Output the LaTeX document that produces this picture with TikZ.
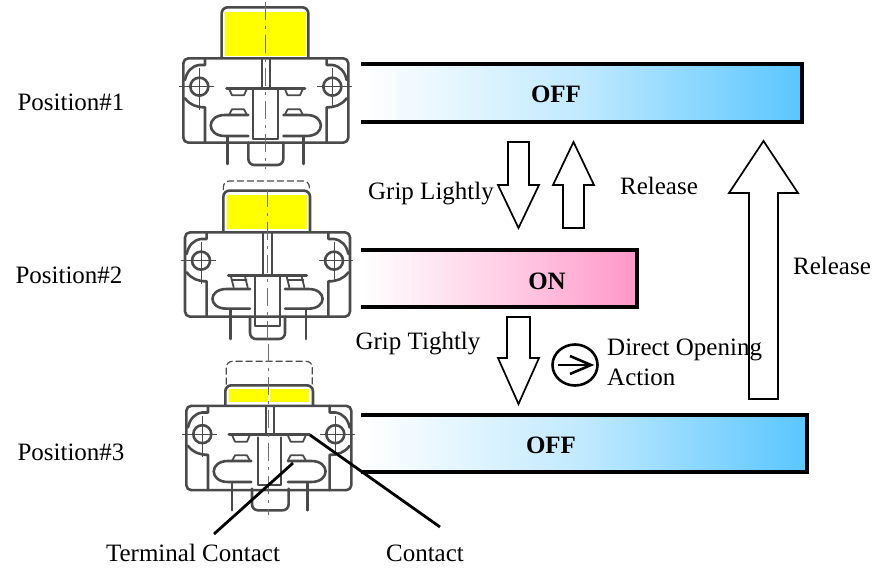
\documentclass[tikz,border=0pt]{standalone}
\usepackage{fontspec}
\usetikzlibrary{shapes.geometric}
\setmainfont{Liberation Serif}
\definecolor{ink}{HTML}{4A4A4A}
\definecolor{sky}{HTML}{5AC6FF}
\definecolor{rose}{HTML}{FF96C8}
\definecolor{btn}{HTML}{FFFF00}
\tikzset{
 lab/.style={inner sep=0pt,font=\fontsize{25}{28}\selectfont},
 blab/.style={inner sep=0pt,font=\fontsize{25}{28}\selectfont\bfseries},
 bar/.style={minimum height=58pt,inner sep=0pt,outer sep=0pt,anchor=north west,shading=axis,shading angle=90,left color=white},
 barline/.style={line width=3.2pt,black},
 blockarrow/.style={draw=black,line width=1.7pt,fill=none,line join=miter},
 leader/.style={line width=2.8pt,black},
 sw/.style={draw=ink,line width=2.6pt,line cap=round,line join=round},
 swin/.style={draw=ink,line width=1.8pt,line cap=round,line join=round},
 swthin/.style={draw=ink,line width=1pt},
 swdash/.style={draw=ink!80,line width=1pt,dash pattern=on 18pt off 6pt on 3pt off 6pt},
 ghost/.style={draw=ink,line width=1.2pt,dash pattern=on 7pt off 3pt},
 swscope/.style={x=0.3333pt,y=-0.3333pt}
}
\newcommand{\swhousing}{%
 \draw[sw,rounded corners=5pt] (40,175) rectangle (535,428);
 \draw[sw] (105,175)--(105,195)--(88,195) .. controls (65,198) and (50,215) .. (45,240);
 \draw[sw] (45,295) .. controls (60,315) and (80,322) .. (105,322)--(105,428);
 \draw[sw] (470,175)--(470,195)--(487,195) .. controls (510,198) and (525,215) .. (530,240);
 \draw[sw] (530,295) .. controls (515,315) and (495,322) .. (470,322)--(470,428);
 \draw[sw] (88,260) circle[radius=27];
 \draw[sw] (487,260) circle[radius=27];
 \draw[swthin] (28,260)--(133,260) (88,205)--(88,330);
 \draw[swthin] (442,260)--(545,260) (487,205)--(487,325);
}
\newcommand{\swbumps}[2]{% plate y, capsule y
 \draw[swin] (178,#1)--(186,#1+18)--(222,#1+18)--(230,#1) (345,#1)--(353,#1+18)--(390,#1+18)--(398,#1);
 \draw[swin] (178,#2)--(186,#2-15)--(222,#2-15)--(230,#2) (345,#2)--(353,#2-15)--(390,#2-15)--(398,#2);
}
\newcommand{\swcapsule}[2]{% top y, bottom y
 \draw[sw] (235,#1)--(165,#1) .. controls (108,#1) and (108,#2) .. (165,#2)--(235,#2);
 \draw[sw] (340,#1)--(410,#1) .. controls (467,#1) and (467,#2) .. (410,#2)--(340,#2);
}
\begin{document}
\begin{tikzpicture}[x=1pt,y=-1pt]
\useasboundingbox (0,0) rectangle (887,582);

% Position 1
\begin{scope}[shift={(170,0)},swscope]
 \fill[btn] (165,35) rectangle (408,168);
 \draw[sw,rounded corners=6pt] (155,172)--(155,22)--(415,22)--(415,172);
 \swhousing
 \draw[swin] (275,175)--(275,262) (300,175)--(300,262);
 \draw[sw,line width=3pt] (170,265)--(405,265);
 \swbumps{268}{343}
 \draw[swin] (250,270)--(250,418)--(325,418)--(325,270);
 \swcapsule{345}{408}
 \draw[sw] (172,410)--(172,492) (400,410)--(400,492);
 \draw[sw,rounded corners=6pt] (235,428)--(235,495)--(340,495)--(340,428);
 \draw[swdash] (287,5)--(287,508);
\end{scope}

% Position 2
\begin{scope}[shift={(171.7,174)},swscope]
 \fill[btn] (165,63) rectangle (407,166);
 \draw[sw,rounded corners=6pt] (155,172)--(155,50)--(415,50)--(415,172);
 \draw[ghost,rounded corners=6pt] (155,48)--(155,21)--(413,21)--(413,48);
 \swhousing
 \draw[swin] (275,175)--(275,300) (300,175)--(300,300);
 \draw[sw,line width=3pt] (170,305)--(405,305);
 \draw[swin] (178,308)--(186,340) (220,308)--(228,340) (345,308)--(353,340) (390,308)--(398,340);
 \draw[swin] (180,318)--(225,318) (350,318)--(395,318);
 \draw[swin] (250,310)--(250,455)--(325,455)--(325,310);
 \swcapsule{345}{404}
 \draw[sw] (177,408)--(177,495) (403,408)--(403,495);
 \draw[sw,rounded corners=6pt] (235,428)--(235,495)--(340,495)--(340,428);
 \draw[swdash] (287,45)--(287,510);
\end{scope}

% Position 3
\begin{scope}[shift={(173,352)},swscope]
 \fill[btn] (169,110) rectangle (285,150);
 \fill[btn] (292,110) rectangle (408,150);
 \draw[sw,rounded corners=6pt] (157,161)--(157,100)--(420,100)--(420,161);
 \draw[ghost,rounded corners=6pt] (160,98)--(160,28)--(418,28)--(418,98);
 \begin{scope}[yshift=4.5pt]\swhousing\end{scope}
 \draw[swin] (278,162)--(278,245) (303,162)--(303,245);
 \draw[sw,line width=3pt] (168,248)--(410,248);
 \swbumps{251}{325}
 \draw[swin] (255,256)--(255,400)--(325,400)--(325,256);
 \draw[sw] (235,327)--(165,327) .. controls (108,327) and (108,390) .. (165,390)--(235,390);
 \draw[sw] (345,327)--(415,327) .. controls (472,327) and (472,390) .. (415,390)--(345,390);
 \draw[sw] (177,395)--(177,475) (403,395)--(403,475);
 \draw[sw,rounded corners=6pt] (237,410)--(237,475)--(347,475)--(347,410);
 \draw[swdash] (288,-25)--(288,490);
\end{scope}

% Bars
\node[bar,right color=sky,middle color=sky!38!white,minimum width=441pt] (bara) at (361,64) {};
\draw[barline] (bara.north west)--(bara.north east)--(bara.south east)--(bara.south west);
\node[blab] (offa) at (556,94.5) {OFF};
\node[bar,right color=rose,middle color=rose!45!white,minimum width=276pt,minimum height=57pt] (barb) at (361,250) {};
\draw[barline] (barb.north west)--(barb.north east)--(barb.south east)--(barb.south west);
\node[blab] (onb) at (547,281.5) {ON};
\node[bar,right color=sky,middle color=sky!38!white,minimum width=446pt,minimum height=57pt] (barc) at (361,415) {};
\draw[barline] (barc.north west)--(barc.north east)--(barc.south east)--(barc.south west);
\node[blab] (offc) at (551,445.5) {OFF};

% Block arrows
\draw[blockarrow] (508,142)--(529,142)--(529,185)--(539,185)--(518.5,228)--(498,185)--(508,185)--cycle;
\draw[blockarrow] (563,228)--(584,228)--(584,185)--(594,185)--(573.5,142)--(553,185)--(563,185)--cycle;
\draw[blockarrow] (507,317)--(530,317)--(530,358)--(539,358)--(518.5,404)--(498,358)--(507,358)--cycle;
\draw[blockarrow] (749,399)--(778,399)--(778,193)--(798,193)--(763.5,141)--(729,193)--(749,193)--cycle;

% Direct opening symbol
\node[draw=black,line width=2.6pt,ellipse,minimum width=45pt,minimum height=41pt,inner sep=0pt] (dosym) at (575,365) {};
\coordinate (doa) at (558,365);
\coordinate (dob) at (591,365);
\draw[line width=2.6pt,black] (doa)--(dob);
\draw[line width=2.6pt,black] (570,356)--(dob)--(570,374);

% Labels
\node[lab] (pa) at (71,102.5) {Position\#1};
\node[lab] (pb) at (69,275.5) {Position\#2};
\node[lab] (pc) at (71,452.5) {Position\#3};
\node[lab] (gl) at (431,193.5) {Grip Lightly};
\node[lab] (ra) at (659,185.5) {Release};
\node[lab] (gt) at (418,343.5) {Grip Tightly};
\node[lab] (rb) at (832,265.5) {Release};
\node[lab,anchor=west] (do1) at (607,349.5) {Direct Opening};
\node[lab,anchor=west] (do2) at (607,377.5) {Action};
\node[lab] (tc) at (193,553) {Terminal Contact};
\node[lab] (cc) at (425,553) {Contact};

% Leaders
\coordinate (tcend) at (293,463);
\coordinate (tcfoot) at (214,534);
\coordinate (ccend) at (310,435);
\coordinate (ccfoot) at (440,527);
\draw[leader] (tcfoot)--(tcend);
\draw[leader] (ccend)--(ccfoot);
\end{tikzpicture}
\end{document}
